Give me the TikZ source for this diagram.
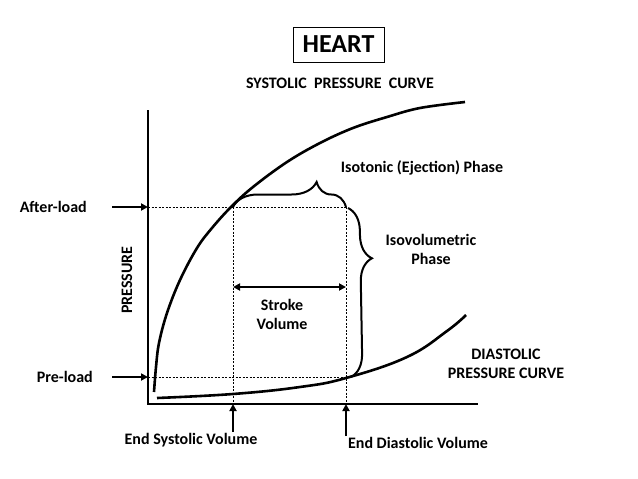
\documentclass[tikz,border=0pt]{standalone}
\usepackage{fontspec}
\setmainfont{Carlito}
\usetikzlibrary{arrows.meta,decorations.pathreplacing}

\begin{document}
\begin{tikzpicture}[x=1pt,y=-1pt,
    lbl/.style={font=\fontsize{16}{19}\selectfont\bfseries, inner sep=1pt, align=center},
    curve/.style={line width=2.6pt},
    guide/.style={line width=0.5pt, dash pattern=on 2pt off 1.5pt},
    arr/.style={line width=2.4pt, -{Triangle[length=7pt,width=7pt]}},
    bracebody/.style={line width=2pt, decorate}]
  \useasboundingbox (0,0) rectangle (638,479);

  % title and labels
  \node[draw, line width=1pt, minimum width=91pt, minimum height=35pt,
        font=\fontsize{26}{28}\selectfont\bfseries] (heart) at (338.5,44.5) {HEART};
  \node[lbl] (systitle) at (340,83) {SYSTOLIC~~PRESSURE~~CURVE};
  \node[lbl] (isotonic) at (422,168) {Isotonic (Ejection) Phase};
  \node[lbl] (isovol) at (431,249) {Isovolumetric\\Phase};
  \node[lbl] (stroke) at (282,314) {Stroke\\Volume};
  \node[lbl] (diastitle) at (506,364) {DIASTOLIC\\PRESSURE CURVE};
  \node[lbl, anchor=east] (afterload) at (88,207) {After-load};
  \node[lbl, anchor=east] (preload) at (94,377) {Pre-load};
  \node[lbl, rotate=90] (pressure) at (127,280) {PRESSURE};
  \node[lbl] (esv) at (191,440) {End Systolic Volume};
  \node[lbl] (edv) at (418,443) {End Diastolic Volume};

  % reference points
  \coordinate (al) at (148,207);
  \coordinate (pl) at (148,377);
  \coordinate (es) at (233,404);
  \coordinate (ed) at (346,404);

  % axes
  \draw[curve, line join=miter] (148,110) -- (148,404) -- (478,404);

  % guide lines
  \draw[guide] (al) -- (ed |- al);
  \draw[guide] (pl) -- (ed |- pl);
  \draw[guide] (es |- al) -- (es);
  \draw[guide] (ed |- al) -- (ed);

  % systolic and diastolic curves
  \draw[curve] plot[smooth, tension=0.6] coordinates {(154,392) (156,367) (159,343) (167,313) (180,280) (197,248) (212,228) (231,207) (253,187) (287,162) (320,143) (353,128) (387,117) (420,108) (465,102)};
  \draw[curve] plot[smooth, tension=0.7] coordinates {(157,398) (233,394) (300,387) (346,378) (407,357) (447,331) (466,315)};

  % braces
  \draw[bracebody, decoration={brace, amplitude=25pt, aspect=0.74}] (233,207) -- (346,207);
  \draw[bracebody, decoration={brace, amplitude=23pt, aspect=0.30}] (348,208) -- (351,377);

  % arrows
  \draw[arr] ([xshift=24pt]afterload.east) -- (al);
  \draw[arr] ([xshift=18pt]preload.east) -- (pl);
  \draw[arr] (es |- esv.north) -- (es);
  \draw[arr] (ed |- edv.north) -- (ed);
  \draw[line width=2.2pt, {Triangle[length=7pt,width=7pt]}-{Triangle[length=7pt,width=7pt]}] (es |- 0,287) -- (ed |- 0,287);
\end{tikzpicture}
\end{document}
